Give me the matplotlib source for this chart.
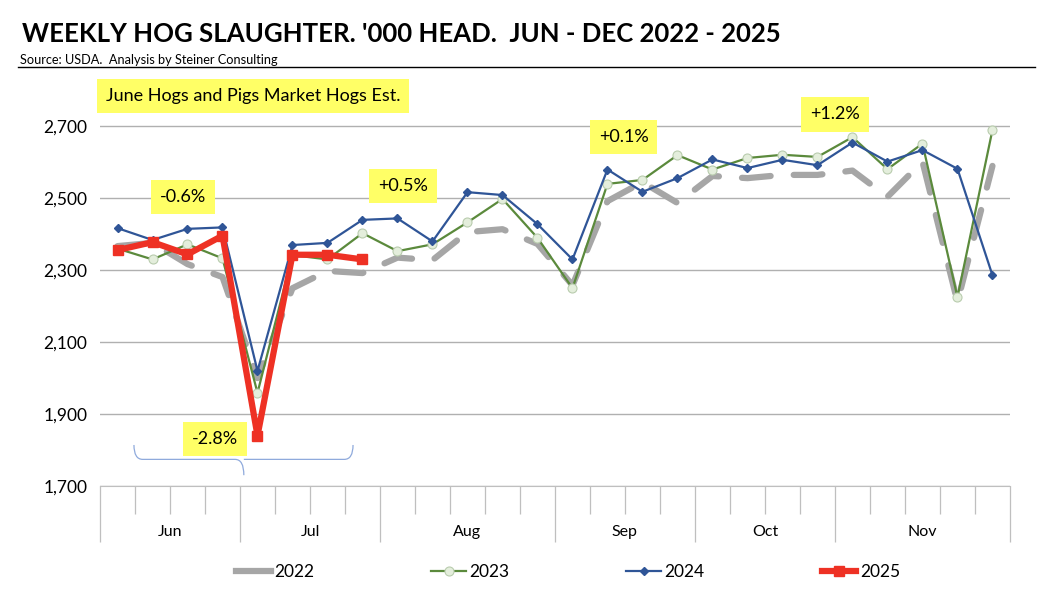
import numpy as np
import matplotlib.pyplot as plt
from matplotlib.path import Path
from matplotlib.patches import PathPatch
from matplotlib.lines import Line2D
from matplotlib.ticker import FuncFormatter

plt.rcParams['font.family'] = ['Lato', 'DejaVu Sans']

# weekly slaughter, '000 head
hogs_2022 = [2367, 2376, 2317, 2281, 2000, 2250, 2298, 2292, 2335, 2328, 2406, 2414, 2373,
             2258, 2492, 2545, 2487, 2562, 2556, 2565, 2565, 2577, 2504, 2602, 2212, 2590]
hogs_2023 = [2360, 2330, 2372, 2333, 1959, 2342, 2330, 2403, 2353, 2372, 2433, 2498, 2390,
             2250, 2540, 2551, 2620, 2580, 2612, 2621, 2615, 2670, 2581, 2652, 2225, 2690]
hogs_2024 = [2417, 2384, 2415, 2419, 2020, 2370, 2376, 2440, 2444, 2380, 2517, 2509, 2428,
             2330, 2580, 2518, 2556, 2608, 2584, 2607, 2592, 2655, 2602, 2634, 2582, 2286]
hogs_2025 = [2356, 2378, 2344, 2396, 1840, 2343, 2343, 2330]

months = ['Jun', 'Jul', 'Aug', 'Sep', 'Oct', 'Nov']
weeks_per_month = [4, 4, 5, 4, 4, 5]
yticks = [1700, 1900, 2100, 2300, 2500, 2700]

# yellow call-outs: text, x (week), y (head)
notes = [('June Hogs and Pigs Market Hogs Est.', 4.37, 2784),
         ('-0.6%', 2.37, 2504),
         ('-2.8%', 3.29, 1831),
         ('+0.5%', 8.66, 2534),
         ('+0.1%', 14.96, 2670),
         ('+1.2%', 21.0, 2733)]

fig = plt.figure(figsize=(10.56, 6.12), dpi=100)
ax = fig.add_axes([0.0947, 0.2059, 0.8617, 0.6464])

n = len(hogs_2022)
x = np.arange(n) + 0.5

ax.plot(x, hogs_2022, color='#A6A6A6', lw=4.5, dashes=(4.6, 3.7),
        dash_capstyle='round', zorder=2)
ax.plot(x, hogs_2023, color='#5B8A3C', lw=1.6, marker='o', ms=6.5,
        mfc='#E4EEDC', mec='#B9CCAE', mew=0.8, zorder=3)
ax.plot(x, hogs_2024, color='#2F5597', lw=1.6, marker='D', ms=4.5, zorder=4)
ax.plot(x[:len(hogs_2025)], hogs_2025, color='#EE3124', lw=4.5, marker='s', ms=7, zorder=5)

ax.set_xlim(0, n)
ax.set_ylim(1700, 2800)
ax.set_yticks(yticks)
ax.yaxis.set_major_formatter(FuncFormatter(lambda v, p: f'{v:,.0f}'))
ax.grid(axis='y', color='#B0B0B0', lw=1)
ax.set_axisbelow(True)
for s in ['top', 'right', 'left']:
    ax.spines[s].set_visible(False)
ax.spines['bottom'].set_color('#BFBFBF')
ax.tick_params(axis='y', length=0, pad=9, labelsize=12.5)

# category boundaries: short ticks, month boundaries: long ticks
bounds = np.cumsum([0] + weeks_per_month)
ax.set_xticks(bounds)
ax.set_xticks(np.arange(n + 1), minor=True)
ax.set_xticklabels([])
ax.tick_params(axis='x', which='major', length=40, color='#BFBFBF', width=0.9)
ax.tick_params(axis='x', which='minor', length=20, color='#BFBFBF', width=0.9)
for i, m in enumerate(months):
    ax.annotate(m, xy=((bounds[i] + bounds[i + 1]) / 2, 0), xycoords=('data', 'axes fraction'),
                xytext=(0, -33), textcoords='offset points', ha='center', va='center',
                fontsize=11.5)

for txt, tx, ty in notes:
    ax.text(tx, ty, txt, ha='center', va='center', fontsize=13, zorder=6,
            bbox=dict(boxstyle='square,pad=0.5', fc='#FFFF66', ec='none'))

# brace under the June/July weeks
x0, x1, xt = 0.97, 7.23, 4.11
yt, ym, yb = 1814, 1774, 1730
d = 0.25
verts = [(x0, yt), (x0, ym), (x0 + d, ym), (xt - d, ym), (xt, ym), (xt, yb),
         (xt, ym), (xt + d, ym), (x1 - d, ym), (x1, ym), (x1, yt)]
codes = [Path.MOVETO, Path.CURVE3, Path.CURVE3, Path.LINETO, Path.CURVE3, Path.CURVE3,
         Path.MOVETO, Path.LINETO, Path.LINETO, Path.CURVE3, Path.CURVE3]
ax.add_patch(PathPatch(Path(verts, codes), fc='none', ec='#8FAADC', lw=0.9, zorder=6))

fig.text(0.021, 0.944, "WEEKLY HOG SLAUGHTER. '000 HEAD.  JUN - DEC 2022 - 2025",
         fontsize=18.5, fontweight='bold', va='center')
fig.text(0.019, 0.902, 'Source: USDA.  Analysis by Steiner Consulting', fontsize=9.2, va='center')
fig.add_artist(Line2D([0.017, 0.98], [0.890, 0.890], color='black', lw=1))

handles = [Line2D([], [], color='#A6A6A6', lw=4.5),
           Line2D([], [], color='#5B8A3C', lw=1.6, marker='o', ms=6.5, mfc='#E4EEDC',
                  mec='#B9CCAE', mew=0.8),
           Line2D([], [], color='#2F5597', lw=1.6, marker='D', ms=4.5),
           Line2D([], [], color='#EE3124', lw=4.5, marker='s', ms=7)]
fig.legend(handles, ['2022', '2023', '2024', '2025'], loc='center',
           bbox_to_anchor=(0.538, 0.066), ncol=4, frameon=False,
           fontsize=12.5, handlelength=2.0, handletextpad=0.2, columnspacing=6.73)

fig.savefig('out.png', dpi=100)
